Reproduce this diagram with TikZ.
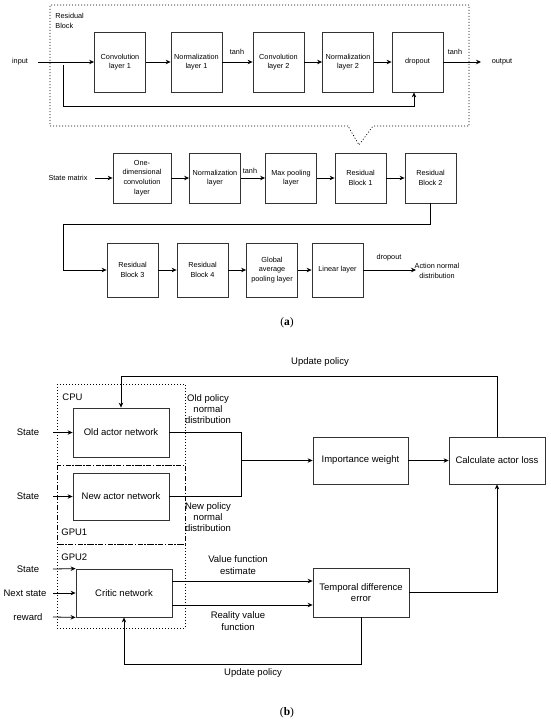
\documentclass[tikz,border=0pt]{standalone}
\usepackage{fontspec}
\setmainfont{Liberation Sans}
\newfontfamily\capfont{Liberation Serif}
\usetikzlibrary{arrows.meta,calc}
\begin{document}
\begin{tikzpicture}[x=1pt,y=-1pt,
  line width=0.8pt,
  arr/.style={-{Stealth[length=5pt,width=4.5pt]}},
  sbox/.style={draw=black!80, rectangle, inner sep=0pt, align=center, minimum width=51pt, font=\fontsize{7.3}{9.7}\selectfont},
  bbox/.style={draw=black!80, rectangle, inner sep=0pt, align=center, minimum width=96pt, font=\fontsize{9.5}{11.3}\selectfont},
  stxt/.style={inner sep=0pt, align=center, font=\fontsize{7.3}{9.7}\selectfont},
  btxt/.style={inner sep=0pt, align=center, font=\fontsize{9.5}{11.3}\selectfont},
  dotline/.style={dash pattern=on 1pt off 2pt, line width=0.7pt},
  dashdotline/.style={dash pattern=on 5pt off 2pt on 1pt off 2pt, line width=0.7pt},
  captxt/.style={inner sep=0pt, font=\capfont\fontsize{11.5}{13}\selectfont}
]
\useasboundingbox (0,0) rectangle (550,725);

% ---------------- (a) top: residual block -----------------
\draw[dotline] (348,126) -- (50,126) -- (50,5) -- (469,5) -- (469,126) -- (373,126) -- (359,145) -- (348,126);
\node[stxt, anchor=north west, align=left] (rbl) at (55,13) {Residual\\Block};

\node[sbox, minimum height=60pt] (c1) at (120,62) {Convolution\\layer 1};
\node[sbox, minimum height=60pt] (n1) at (196.5,62) {Normalization\\layer 1};
\node[sbox, minimum height=60pt] (c2) at (278.5,62) {Convolution\\layer 2};
\node[sbox, minimum height=60pt] (n2) at (348,62) {Normalization\\layer 2};
\node[sbox, minimum height=60pt] (dp) at (417.5,62) {dropout};

\node[stxt] (inp) at (20,62) {input};
\coordinate (inS) at (38,62);
\coordinate (skS) at (63,65);
\coordinate (skC) at (414,106);
\node[stxt] (outp) at (502,62) {output};
\coordinate (outE) at (481,62);

\draw[arr] (inS) -- (c1.west);
\draw[arr] (c1) -- (n1);
\draw[arr] (n1) -- (c2);
\draw[arr] (c2) -- (n2);
\draw[arr] (n2) -- (dp);
\draw[arr] (dp) -- (outE);
\draw[arr] (skS) |- (skC) -- (skC |- dp.south);
\node[stxt] (t1) at (237,52) {tanh};
\node[stxt] (t2) at (455,52) {tanh};

% ---------------- (a) middle rows -----------------
\node[sbox, minimum width=58pt, minimum height=50pt] (od) at (142,178) {One-\\dimensional\\convolution\\layer};
\node[sbox, minimum height=50pt] (nl) at (215,178) {Normalization\\layer};
\node[sbox, minimum height=50pt] (mp) at (291,178) {Max pooling\\layer};
\node[sbox, minimum height=50pt] (r1) at (360.5,178) {Residual\\Block 1};
\node[sbox, minimum height=50pt] (r2) at (430.5,178) {Residual\\Block 2};

\node[stxt] (sm) at (68,178) {State matrix};
\coordinate (smE) at (95,178);
\draw[arr] (smE) -- (od.west);
\draw[arr] (od) -- (nl);
\draw[arr] (nl) -- (mp);
\draw[arr] (mp) -- (r1);
\draw[arr] (r1) -- (r2);
\node[stxt] (t3) at (250,171) {tanh};

\node[sbox, minimum height=54pt] (r3) at (132.5,270) {Residual\\Block 3};
\node[sbox, minimum height=54pt] (r4) at (202.5,270) {Residual\\Block 4};
\node[sbox, minimum height=54pt] (ga) at (272,270) {Global\\average\\pooling layer};
\node[sbox, minimum height=54pt] (ll) at (337.5,270) {Linear layer};

\coordinate (rtA) at (63,224);
\draw[arr] (r2.south) |- (rtA) |- (r3.west);
\draw[arr] (r3) -- (r4);
\draw[arr] (r4) -- (ga);
\draw[arr] (ga) -- (ll);
\coordinate (anE) at (416,270);
\draw[arr] (ll) -- (anE);
\node[stxt] (dpl) at (389,258) {dropout};
\node[stxt] (and) at (437,271) {Action normal\\distribution};

\node[captxt] (capa) at (287,323) {(\textbf{a})};

% ---------------- (b) -----------------
\draw[dotline] (57,384) rectangle (185,465);
\draw[dotline] (57,544) rectangle (185,628);
\draw[dashdotline] (57,465) rectangle (185,544);
\node[btxt, anchor=west] (cpu) at (62,397) {CPU};
\node[btxt, anchor=west] (gpu1) at (61,532) {GPU1};
\node[btxt, anchor=west] (gpu2) at (61,557) {GPU2};

\node[bbox, minimum height=49pt] (old) at (121,432.5) {Old actor network};
\node[bbox, minimum height=47pt] (new) at (121,496.5) {New actor network};
\node[bbox, minimum width=95pt, minimum height=47pt] (imp) at (360.5,460.5) {Importance weight};
\node[bbox, minimum height=47pt] (calc) at (497,460.5) {Calculate actor loss};
\node[bbox, minimum height=48pt] (crit) at (124,593) {Critic network};
\node[bbox, minimum height=49pt] (td) at (361,592.5) {Temporal difference\\error};

\node[btxt] (s1) at (28,432.5) {State};
\coordinate (s1E) at (53,432.5);
\draw[arr] (s1E) -- (old.west);
\node[btxt] (s2) at (28,496.5) {State};
\coordinate (s2E) at (53,496.5);
\draw[arr] (s2E) -- (new.west);

\node[btxt] (opn) at (208,409) {Old policy\\normal\\distribution};
\node[btxt] (npn) at (208,517) {New policy\\normal\\distribution};

\coordinate (mrg) at (241,460.5);
\draw (old.east) -| (mrg);
\draw (new.east) -| (mrg);
\draw[arr] (mrg) -- (imp.west);
\draw[arr] (imp) -- (calc);

\coordinate (upC) at (121,376);
\draw[arr] (calc.north) |- (upC) -- (old.north);
\node[btxt] (up1) at (320,362) {Update policy};

\node[btxt] (s3) at (28,569) {State};
\node[btxt] (ns) at (25,593) {Next state};
\node[btxt] (rw) at (28,617) {reward};
\coordinate (s3E) at (53,569);
\coordinate (nsE) at (53,593);
\coordinate (rwE) at (53,617);
\draw[arr] (s3E) -- (crit.north west);
\draw[arr] (nsE) -- (crit.west);
\draw[arr] (rwE) -- (crit.south west);

\draw[arr] ($(crit.east)+(0,-12)$) -- ($(td.west)+(0,-11.5)$);
\draw[arr] ($(crit.east)+(0,12)$) -- ($(td.west)+(0,12.5)$);
\node[btxt] (vfe) at (238,565) {Value function\\estimate};
\node[btxt] (rvf) at (238,621) {Reality value\\function};

\coordinate (upD) at (124,664);
\draw[arr] (td.south) |- (upD) -- (crit.south);
\node[btxt] (up2) at (253,673) {Update policy};

\draw[arr] (td.east) -| (calc.south);

\node[captxt] (capb) at (287,713) {(\textbf{b})};
\end{tikzpicture}
\end{document}
